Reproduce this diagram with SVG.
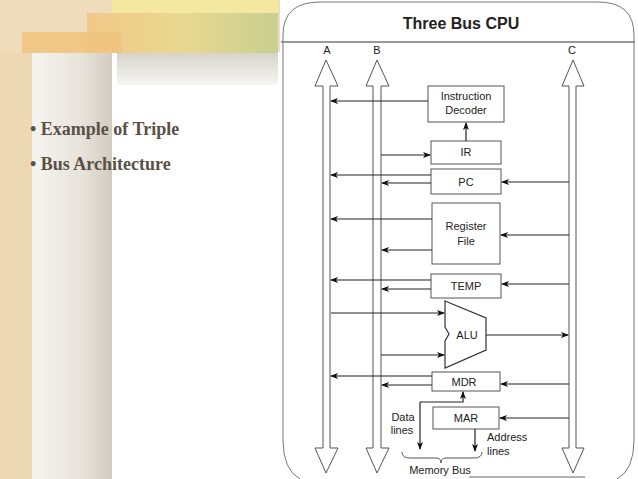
<svg xmlns="http://www.w3.org/2000/svg" width="638" height="479" viewBox="0 0 638 479">
<defs>
<linearGradient id="col" x1="0" x2="1" y1="0" y2="0"><stop offset="0" stop-color="#f6f4f0"/><stop offset="0.6" stop-color="#e8e4dc"/><stop offset="1" stop-color="#d2ccc0"/></linearGradient>
<linearGradient id="band" x1="0" x2="1"><stop offset="0" stop-color="#f2c889"/><stop offset="0.5" stop-color="#e8d890"/><stop offset="1" stop-color="#c8d090"/></linearGradient>
<linearGradient id="sh" x1="0" x2="0" y1="0" y2="1"><stop offset="0" stop-color="#d8d4cc"/><stop offset="1" stop-color="#f6f5f2"/></linearGradient>
<marker id="ar" markerWidth="8" markerHeight="6" refX="7" refY="3" orient="auto" markerUnits="userSpaceOnUse"><path d="M0,0 L8,3 L0,6 L2,3 Z" fill="#111"/></marker>
<style>
.bx{fill:#fff;stroke:#555;stroke-width:1}
.t{font-family:"Liberation Sans",Arial,sans-serif;font-size:11px;fill:#222;text-anchor:middle}
.c{stroke:#222;stroke-width:1.2;fill:none;marker-end:url(#ar)}
.bus{fill:#fff;stroke:#555;stroke-width:1}
.bl{font-family:"Liberation Serif","Times New Roman",serif;font-weight:bold;font-size:18px;fill:#5a5046}
</style>
</defs>
<rect width="638" height="479" fill="#fff"/>
<rect x="0" y="0" width="32" height="479" fill="#ecd9b4"/>
<rect x="0" y="0" width="280" height="52" fill="#eedcba"/>
<rect x="112" y="0" width="166" height="14" fill="#f4e8a0"/>
<rect x="87" y="13" width="191" height="40" fill="url(#band)"/>
<rect x="22" y="32" width="100" height="21" fill="#f0c47e" opacity="0.9"/>
<rect x="117" y="53" width="161" height="32" fill="url(#sh)"/>
<rect x="32" y="53" width="80" height="426" fill="url(#col)"/>
<text class="bl" x="30" y="135">• Example of Triple</text>
<text class="bl" x="30" y="170">• Bus Architecture</text>
<g id="frame">
<path d="M283,479 Q283,479 283,479 M300,479 Q283,470 283,440 L283,35 Q283,2 320,2 L598,2 Q634,2 634,35 L634,440 Q634,470 617,479" fill="#fff" stroke="#777" stroke-width="1"/>
<line x1="281" y1="42" x2="635" y2="42" stroke="#777" stroke-width="1.5"/>
<text x="461" y="29" font-family="Liberation Sans,Arial,sans-serif" font-weight="bold" font-size="16" text-anchor="middle" fill="#222">Three Bus CPU</text>
<text class="t" x="327" y="54" font-size="13">A</text>
<text class="t" x="377" y="54" font-size="13">B</text>
<text class="t" x="572" y="54" font-size="13">C</text>
</g>
<g id="busA"><path class="bus" d="M326,60 L338,86 L330,86 L330,448 L338,448 L326,473 L315,448 L323,448 L323,86 L315,86 Z"/></g>
<g id="busB"><path class="bus" d="M377,60 L389,86 L381,86 L381,448 L389,448 L377,473 L366,448 L373,448 L373,86 L366,86 Z"/></g>
<g id="busC"><path class="bus" d="M573,60 L584,86 L576,86 L576,448 L584,448 L573,473 L562,448 L569,448 L569,86 L562,86 Z"/></g>
<g id="decoder"><rect class="bx" x="428" y="86" width="76" height="36"/><text class="t" x="466" y="100">Instruction</text><text class="t" x="466" y="114">Decoder</text></g>
<g id="ir"><rect class="bx" x="431" y="141" width="70" height="23"/><text class="t" x="466" y="156">IR</text></g>
<g id="pc"><rect class="bx" x="431" y="169" width="70" height="25"/><text class="t" x="466" y="186">PC</text></g>
<g id="regfile"><rect class="bx" x="432" y="203" width="68" height="61"/><text class="t" x="466" y="230">Register</text><text class="t" x="466" y="245">File</text></g>
<g id="temp"><rect class="bx" x="431" y="274" width="70" height="24"/><text class="t" x="466" y="290">TEMP</text></g>
<g id="alu"><path d="M445,301 L486,318 L486,350 L445,368 L445,341 L449,334 L445,327 Z" fill="#fff" stroke="#333" stroke-width="1.2"/><text class="t" x="467" y="339">ALU</text></g>
<g id="mdr"><rect class="bx" x="432" y="372" width="68" height="19"/><text class="t" x="464" y="386">MDR</text></g>
<g id="mar"><rect class="bx" x="433" y="407" width="66" height="22"/><text class="t" x="466" y="422">MAR</text></g>
<g id="connectors">
<line class="c" x1="428" y1="101" x2="331" y2="101"/>
<line class="c" x1="466" y1="141" x2="466" y2="123"/>
<line class="c" x1="381" y1="155" x2="430" y2="155"/>
<line class="c" x1="431" y1="175" x2="331" y2="175"/>
<line class="c" x1="431" y1="183" x2="382" y2="183"/>
<line class="c" x1="569" y1="182" x2="502" y2="182"/>
<line class="c" x1="432" y1="219" x2="331" y2="219"/>
<line class="c" x1="569" y1="235" x2="501" y2="235"/>
<line class="c" x1="432" y1="250" x2="382" y2="250"/>
<line class="c" x1="431" y1="280" x2="331" y2="280"/>
<line class="c" x1="431" y1="289" x2="382" y2="289"/>
<line class="c" x1="569" y1="284" x2="502" y2="284"/>
<line class="c" x1="331" y1="313" x2="444" y2="313"/>
<line class="c" x1="381" y1="355" x2="444" y2="355"/>
<line class="c" x1="486" y1="335" x2="568" y2="335"/>
<line class="c" x1="432" y1="376" x2="331" y2="376"/>
<line class="c" x1="432" y1="385" x2="382" y2="385"/>
<line class="c" x1="569" y1="384" x2="501" y2="384"/>
<line class="c" x1="569" y1="418" x2="500" y2="418"/>
<path class="c" d="M420,402 L463,402 L463,392"/>
<path class="c" d="M420,402 L420,449"/>
<line class="c" x1="475" y1="429" x2="475" y2="451"/>
<path d="M402,452 Q402,458 410,458 L436,458 Q441,458 441,463 Q441,458 446,458 L474,458 Q482,458 482,452" fill="none" stroke="#555" stroke-width="1"/>
</g>
<text class="t" x="403" y="421">Data</text>
<text class="t" x="402" y="434">lines</text>
<text class="t" x="487" y="441" style="text-anchor:start">Address</text>
<text class="t" x="487" y="455" style="text-anchor:start">lines</text>
<text class="t" x="440" y="474">Memory Bus</text>
<line x1="469" y1="477" x2="585" y2="477" stroke="#666" stroke-width="1"/>
</svg>
